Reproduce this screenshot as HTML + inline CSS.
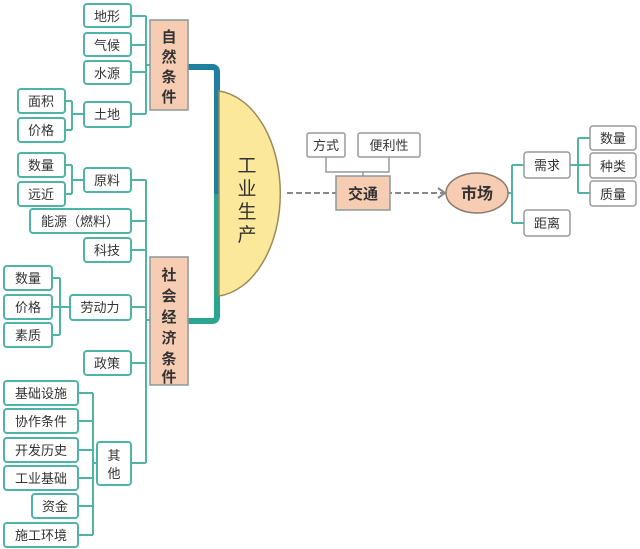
<!DOCTYPE html>
<html><head><meta charset="utf-8"><style>
html,body{margin:0;padding:0;background:#fff;}
svg{display:block;}
text{font-family:"Liberation Sans","Noto Sans CJK SC",sans-serif;fill:#333;}
</style></head><body>
<svg width="640" height="549" viewBox="0 0 640 549" xmlns="http://www.w3.org/2000/svg">
<defs><linearGradient id="bar" x1="0" y1="0" x2="0" y2="1">
<stop offset="0" stop-color="#1f7f9e"/><stop offset="0.5" stop-color="#1f7f9e"/><stop offset="0.5" stop-color="#2aa58f"/><stop offset="1" stop-color="#2aa58f"/></linearGradient></defs>
<g fill="none" stroke="#4fb3a6" stroke-width="2">
<!-- natural connectors -->
<path d="M131 16H146M131 45H146M131 72H146M131 114H146M146 16V114M146 65H150"/>
<path d="M65 101H72M65 130H72M72 101V130M72 114H84"/>
<!-- social -->
<path d="M65 165H72M65 194H72M72 165V194M72 180H84"/>
<path d="M131 180H146M131 221H146M131 250H146M131 307H146M131 363H146M131 463H146M146 180V463M146 320H150"/>
<path d="M52 278H60M52 307H60M52 335H60M60 278V335M60 307H70"/>
<path d="M78 393H93M78 421H93M78 450H93M78 478H93M78 506H93M78 535H93M93 393V535M93 463H97"/>
<!-- right -->
<path d="M508 193H512M512 165V223M512 165H524M512 223H524"/>
<path d="M570 165H578M578 138V193M578 138H590M578 165H590M578 193H590"/>
</g>
<path d="M326 157V172H389V157M363 172V176" fill="none" stroke="#999" stroke-width="1.5"/>
<!-- thick bar -->
<path d="M188 67H212Q217 67 217 72V316Q217 321 212 321H188" fill="none" stroke="url(#bar)" stroke-width="6"/>
<!-- half ellipse -->
<path d="M219 91 A68 103 0 0 1 219 296 Z" fill="#fbe89a" stroke="#9c8a5a" stroke-width="1.5"/>
<text x="247" y="172" font-size="19" text-anchor="middle">工</text>
<text x="247" y="195" font-size="19" text-anchor="middle">业</text>
<text x="247" y="218" font-size="19" text-anchor="middle">生</text>
<text x="247" y="241" font-size="19" text-anchor="middle">产</text>
<!-- dashed -->
<path d="M287 193H443" stroke="#888" stroke-width="2" stroke-dasharray="6,3"/>
<path d="M438 188L445 193L438 198" fill="none" stroke="#888" stroke-width="2"/>
<g stroke="#4fb3a6" stroke-width="2" fill="#fff">
<rect x="84" y="4" width="47" height="23" rx="3"/>
<rect x="84" y="33" width="47" height="23" rx="3"/>
<rect x="84" y="61" width="47" height="23" rx="3"/>
<rect x="18" y="89" width="47" height="24" rx="3"/>
<rect x="18" y="118" width="47" height="24" rx="3"/>
<rect x="84" y="102" width="47" height="25" rx="3"/>
<rect x="18" y="153" width="47" height="24" rx="3"/>
<rect x="18" y="182" width="47" height="24" rx="3"/>
<rect x="84" y="168" width="47" height="24" rx="3"/>
<rect x="30" y="209" width="101" height="24" rx="3"/>
<rect x="84" y="238" width="47" height="24" rx="3"/>
<rect x="4" y="266" width="48" height="24" rx="3"/>
<rect x="4" y="295" width="48" height="24" rx="3"/>
<rect x="4" y="323" width="48" height="24" rx="3"/>
<rect x="70" y="295" width="61" height="25" rx="3"/>
<rect x="84" y="351" width="47" height="24" rx="3"/>
<rect x="4" y="381" width="74" height="24" rx="3"/>
<rect x="4" y="409" width="74" height="24" rx="3"/>
<rect x="4" y="438" width="74" height="24" rx="3"/>
<rect x="4" y="466" width="74" height="24" rx="3"/>
<rect x="32" y="494" width="46" height="24" rx="3"/>
<rect x="4" y="523" width="74" height="24" rx="3"/>
<rect x="97" y="442" width="34" height="43" rx="3"/>
</g>
<g stroke="#8a9a9a" stroke-width="1.5" fill="#f6cdb2">
<rect x="150" y="20" width="38" height="90"/>
<rect x="150" y="257" width="38" height="128"/>
<rect x="336" y="176" width="54" height="34"/>
</g>
<g stroke="#999" stroke-width="1.5" fill="#fff">
<rect x="307" y="133" width="38" height="24" rx="2"/>
<rect x="358" y="133" width="62" height="24" rx="2"/>
<rect x="524" y="152" width="46" height="26" rx="3"/>
<rect x="524" y="210" width="46" height="26" rx="3"/>
<rect x="590" y="126" width="46" height="24" rx="3"/>
<rect x="590" y="153" width="46" height="25" rx="3"/>
<rect x="590" y="181" width="46" height="25" rx="3"/>
</g>
<ellipse cx="477" cy="193" rx="31" ry="20" fill="#f6cdb2" stroke="#8a7a6a" stroke-width="1.5"/>
<g font-size="13" text-anchor="middle">
<text x="107" y="21">地形</text><text x="107" y="50">气候</text><text x="107" y="78">水源</text>
<text x="41" y="106">面积</text><text x="41" y="135">价格</text><text x="107" y="119">土地</text>
<text x="41" y="170">数量</text><text x="41" y="199">远近</text><text x="107" y="185">原料</text>
<text x="80" y="226">能源（燃料）</text><text x="107" y="255">科技</text>
<text x="28" y="283">数量</text><text x="28" y="312">价格</text><text x="28" y="340">素质</text>
<text x="100" y="312">劳动力</text><text x="107" y="368">政策</text>
<text x="41" y="398">基础设施</text><text x="41" y="426">协作条件</text><text x="41" y="455">开发历史</text>
<text x="41" y="483">工业基础</text><text x="55" y="511">资金</text><text x="41" y="540">施工环境</text>
<text x="114" y="460">其</text><text x="114" y="478">他</text>
<text x="326" y="150">方式</text><text x="389" y="150">便利性</text>
<text x="547" y="170">需求</text><text x="547" y="228">距离</text>
<text x="613" y="143">数量</text><text x="613" y="171">种类</text><text x="613" y="199">质量</text>
</g>
<g font-size="15" text-anchor="middle" font-weight="bold">
<text x="169" y="42">自</text><text x="169" y="62">然</text><text x="169" y="82">条</text><text x="169" y="102">件</text>
<text x="169" y="280">社</text><text x="169" y="301">会</text><text x="169" y="322">经</text><text x="169" y="343">济</text><text x="169" y="364">条</text><text x="169" y="382">件</text>
<text x="363" y="199">交通</text>
<text x="477" y="199" font-size="16">市场</text>
</g>
</svg>
</body></html>
